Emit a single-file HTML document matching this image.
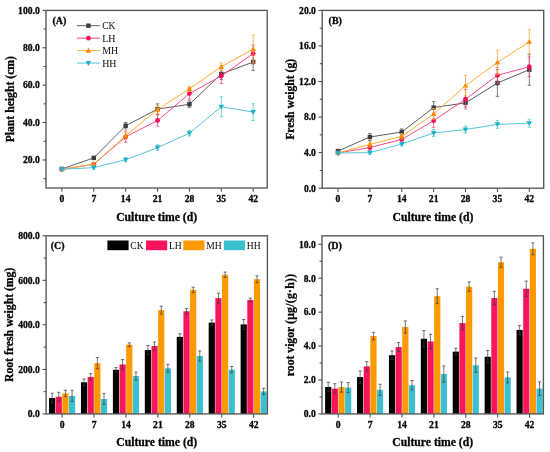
<!DOCTYPE html><html><head><meta charset="utf-8"><style>html,body{margin:0;padding:0;background:#fff;}svg{display:block;filter:blur(0.35px);}</style></head><body>
<svg width="550" height="452" viewBox="0 0 550 452" font-family='"Liberation Serif", serif' fill="#050505">
<rect width="550" height="452" fill="#fff"/>
<line x1="42.4" y1="159.96" x2="46" y2="159.96" stroke="#2a2a2a" stroke-width="0.9"/>
<text x="39.7" y="163.26" text-anchor="end" font-size="9.6" font-weight="bold" stroke="#050505" stroke-width="0.3">20.0</text>
<line x1="42.4" y1="122.57" x2="46" y2="122.57" stroke="#2a2a2a" stroke-width="0.9"/>
<text x="39.7" y="125.87" text-anchor="end" font-size="9.6" font-weight="bold" stroke="#050505" stroke-width="0.3">40.0</text>
<line x1="42.4" y1="85.18" x2="46" y2="85.18" stroke="#2a2a2a" stroke-width="0.9"/>
<text x="39.7" y="88.48" text-anchor="end" font-size="9.6" font-weight="bold" stroke="#050505" stroke-width="0.3">60.0</text>
<line x1="42.4" y1="47.79" x2="46" y2="47.79" stroke="#2a2a2a" stroke-width="0.9"/>
<text x="39.7" y="51.09" text-anchor="end" font-size="9.6" font-weight="bold" stroke="#050505" stroke-width="0.3">80.0</text>
<line x1="42.4" y1="10.4" x2="46" y2="10.4" stroke="#2a2a2a" stroke-width="0.9"/>
<text x="39.7" y="13.7" text-anchor="end" font-size="9.6" font-weight="bold" stroke="#050505" stroke-width="0.3">100.0</text>
<line x1="43.6" y1="178.65" x2="46" y2="178.65" stroke="#2a2a2a" stroke-width="0.9"/>
<line x1="43.6" y1="141.26" x2="46" y2="141.26" stroke="#2a2a2a" stroke-width="0.9"/>
<line x1="43.6" y1="103.87" x2="46" y2="103.87" stroke="#2a2a2a" stroke-width="0.9"/>
<line x1="43.6" y1="66.48" x2="46" y2="66.48" stroke="#2a2a2a" stroke-width="0.9"/>
<line x1="43.6" y1="29.09" x2="46" y2="29.09" stroke="#2a2a2a" stroke-width="0.9"/>
<line x1="61.9" y1="188" x2="61.9" y2="191.7" stroke="#2a2a2a" stroke-width="0.9"/>
<text x="61.9" y="202.1" text-anchor="middle" font-size="9.6" font-weight="bold" stroke="#050505" stroke-width="0.3">0</text>
<line x1="93.78" y1="188" x2="93.78" y2="191.7" stroke="#2a2a2a" stroke-width="0.9"/>
<text x="93.78" y="202.1" text-anchor="middle" font-size="9.6" font-weight="bold" stroke="#050505" stroke-width="0.3">7</text>
<line x1="125.67" y1="188" x2="125.67" y2="191.7" stroke="#2a2a2a" stroke-width="0.9"/>
<text x="125.67" y="202.1" text-anchor="middle" font-size="9.6" font-weight="bold" stroke="#050505" stroke-width="0.3">14</text>
<line x1="157.55" y1="188" x2="157.55" y2="191.7" stroke="#2a2a2a" stroke-width="0.9"/>
<text x="157.55" y="202.1" text-anchor="middle" font-size="9.6" font-weight="bold" stroke="#050505" stroke-width="0.3">21</text>
<line x1="189.43" y1="188" x2="189.43" y2="191.7" stroke="#2a2a2a" stroke-width="0.9"/>
<text x="189.43" y="202.1" text-anchor="middle" font-size="9.6" font-weight="bold" stroke="#050505" stroke-width="0.3">28</text>
<line x1="221.32" y1="188" x2="221.32" y2="191.7" stroke="#2a2a2a" stroke-width="0.9"/>
<text x="221.32" y="202.1" text-anchor="middle" font-size="9.6" font-weight="bold" stroke="#050505" stroke-width="0.3">35</text>
<line x1="253.2" y1="188" x2="253.2" y2="191.7" stroke="#2a2a2a" stroke-width="0.9"/>
<text x="253.2" y="202.1" text-anchor="middle" font-size="9.6" font-weight="bold" stroke="#050505" stroke-width="0.3">42</text>
<text x="156.6" y="221.2" text-anchor="middle" font-size="11.7" font-weight="bold" stroke="#050505" stroke-width="0.3">Culture time (d)</text>
<text transform="translate(13.6,99.2) rotate(-90)" text-anchor="middle" font-size="11.7" font-weight="bold" stroke="#050505" stroke-width="0.3">Plant height (cm)</text>
<text x="52.4" y="24.3" font-size="10.0" font-weight="bold" stroke="#050505" stroke-width="0.3">(A)</text>
<polyline points="61.9,168.93 93.78,157.9 125.67,125.75 157.55,109.11 189.43,104.25 221.32,73.96 253.2,62" fill="none" stroke="#5e5e5e" stroke-width="1.0"/>
<path d="M61.9,168 V169.87 M60.2,168 H63.6 M60.2,169.87 H63.6" stroke="#5e5e5e" stroke-width="0.8" fill="none"/>
<path d="M93.78,156.41 V159.4 M92.08,156.41 H95.48 M92.08,159.4 H95.48" stroke="#5e5e5e" stroke-width="0.8" fill="none"/>
<path d="M125.67,122.38 V129.11 M123.97,122.38 H127.37 M123.97,129.11 H127.37" stroke="#5e5e5e" stroke-width="0.8" fill="none"/>
<path d="M157.55,103.87 V114.34 M155.85,103.87 H159.25 M155.85,114.34 H159.25" stroke="#5e5e5e" stroke-width="0.8" fill="none"/>
<path d="M189.43,100.88 V107.61 M187.73,100.88 H191.13 M187.73,107.61 H191.13" stroke="#5e5e5e" stroke-width="0.8" fill="none"/>
<path d="M221.32,68.35 V79.57 M219.62,68.35 H223.02 M219.62,79.57 H223.02" stroke="#5e5e5e" stroke-width="0.8" fill="none"/>
<path d="M253.2,53.58 V70.41 M251.5,53.58 H254.9 M251.5,70.41 H254.9" stroke="#5e5e5e" stroke-width="0.8" fill="none"/>
<rect x="59.7" y="166.73" width="4.4" height="4.4" fill="#3c3c3c"/>
<rect x="91.58" y="155.7" width="4.4" height="4.4" fill="#3c3c3c"/>
<rect x="123.47" y="123.55" width="4.4" height="4.4" fill="#3c3c3c"/>
<rect x="155.35" y="106.91" width="4.4" height="4.4" fill="#3c3c3c"/>
<rect x="187.23" y="102.05" width="4.4" height="4.4" fill="#3c3c3c"/>
<rect x="219.12" y="71.76" width="4.4" height="4.4" fill="#3c3c3c"/>
<rect x="251" y="59.8" width="4.4" height="4.4" fill="#3c3c3c"/>
<polyline points="61.9,169.31 93.78,164.26 125.67,136.78 157.55,120.51 189.43,93.59 221.32,76.02 253.2,53.58" fill="none" stroke="#f64c82" stroke-width="1.0"/>
<path d="M61.9,168.37 V170.24 M60.2,168.37 H63.6 M60.2,170.24 H63.6" stroke="#f64c82" stroke-width="0.8" fill="none"/>
<path d="M93.78,162.76 V165.75 M92.08,162.76 H95.48 M92.08,165.75 H95.48" stroke="#f64c82" stroke-width="0.8" fill="none"/>
<path d="M125.67,131.17 V142.38 M123.97,131.17 H127.37 M123.97,142.38 H127.37" stroke="#f64c82" stroke-width="0.8" fill="none"/>
<path d="M157.55,114.9 V126.12 M155.85,114.9 H159.25 M155.85,126.12 H159.25" stroke="#f64c82" stroke-width="0.8" fill="none"/>
<path d="M189.43,87.98 V99.2 M187.73,87.98 H191.13 M187.73,99.2 H191.13" stroke="#f64c82" stroke-width="0.8" fill="none"/>
<path d="M221.32,68.54 V83.5 M219.62,68.54 H223.02 M219.62,83.5 H223.02" stroke="#f64c82" stroke-width="0.8" fill="none"/>
<path d="M253.2,45.17 V62 M251.5,45.17 H254.9 M251.5,62 H254.9" stroke="#f64c82" stroke-width="0.8" fill="none"/>
<circle cx="61.9" cy="169.31" r="2.4" fill="#f80c55"/>
<circle cx="93.78" cy="164.26" r="2.4" fill="#f80c55"/>
<circle cx="125.67" cy="136.78" r="2.4" fill="#f80c55"/>
<circle cx="157.55" cy="120.51" r="2.4" fill="#f80c55"/>
<circle cx="189.43" cy="93.59" r="2.4" fill="#f80c55"/>
<circle cx="221.32" cy="76.02" r="2.4" fill="#f80c55"/>
<circle cx="253.2" cy="53.58" r="2.4" fill="#f80c55"/>
<polyline points="61.9,169.31 93.78,164.26 125.67,135.65 157.55,109.48 189.43,88.92 221.32,66.67 253.2,49.1" fill="none" stroke="#ffab35" stroke-width="1.0"/>
<path d="M61.9,168.37 V170.24 M60.2,168.37 H63.6 M60.2,170.24 H63.6" stroke="#ffab35" stroke-width="0.8" fill="none"/>
<path d="M93.78,162.76 V165.75 M92.08,162.76 H95.48 M92.08,165.75 H95.48" stroke="#ffab35" stroke-width="0.8" fill="none"/>
<path d="M125.67,131.92 V139.39 M123.97,131.92 H127.37 M123.97,139.39 H127.37" stroke="#ffab35" stroke-width="0.8" fill="none"/>
<path d="M157.55,105.74 V113.22 M155.85,105.74 H159.25 M155.85,113.22 H159.25" stroke="#ffab35" stroke-width="0.8" fill="none"/>
<path d="M189.43,86.11 V91.72 M187.73,86.11 H191.13 M187.73,91.72 H191.13" stroke="#ffab35" stroke-width="0.8" fill="none"/>
<path d="M221.32,62.93 V70.41 M219.62,62.93 H223.02 M219.62,70.41 H223.02" stroke="#ffab35" stroke-width="0.8" fill="none"/>
<path d="M253.2,35.08 V63.12 M251.5,35.08 H254.9 M251.5,63.12 H254.9" stroke="#ffab35" stroke-width="0.8" fill="none"/>
<path d="M61.9,166.41 L64.7,171.31 L59.1,171.31Z" fill="#ff8a00"/>
<path d="M93.78,161.36 L96.58,166.26 L90.98,166.26Z" fill="#ff8a00"/>
<path d="M125.67,132.75 L128.47,137.65 L122.87,137.65Z" fill="#ff8a00"/>
<path d="M157.55,106.58 L160.35,111.48 L154.75,111.48Z" fill="#ff8a00"/>
<path d="M189.43,86.02 L192.23,90.92 L186.63,90.92Z" fill="#ff8a00"/>
<path d="M221.32,63.77 L224.12,68.67 L218.52,68.67Z" fill="#ff8a00"/>
<path d="M253.2,46.2 L256,51.1 L250.4,51.1Z" fill="#ff8a00"/>
<polyline points="61.9,169.31 93.78,167.62 125.67,159.77 157.55,147.62 189.43,133.22 221.32,106.68 253.2,112.1" fill="none" stroke="#55c6d8" stroke-width="1.0"/>
<path d="M61.9,168.37 V170.24 M60.2,168.37 H63.6 M60.2,170.24 H63.6" stroke="#55c6d8" stroke-width="0.8" fill="none"/>
<path d="M93.78,166.13 V169.12 M92.08,166.13 H95.48 M92.08,169.12 H95.48" stroke="#55c6d8" stroke-width="0.8" fill="none"/>
<path d="M125.67,157.9 V161.64 M123.97,157.9 H127.37 M123.97,161.64 H127.37" stroke="#55c6d8" stroke-width="0.8" fill="none"/>
<path d="M157.55,144.82 V150.42 M155.85,144.82 H159.25 M155.85,150.42 H159.25" stroke="#55c6d8" stroke-width="0.8" fill="none"/>
<path d="M189.43,130.42 V136.03 M187.73,130.42 H191.13 M187.73,136.03 H191.13" stroke="#55c6d8" stroke-width="0.8" fill="none"/>
<path d="M221.32,96.77 V116.59 M219.62,96.77 H223.02 M219.62,116.59 H223.02" stroke="#55c6d8" stroke-width="0.8" fill="none"/>
<path d="M253.2,103.69 V120.51 M251.5,103.69 H254.9 M251.5,120.51 H254.9" stroke="#55c6d8" stroke-width="0.8" fill="none"/>
<path d="M61.9,172.21 L64.7,167.31 L59.1,167.31Z" fill="#1fb2ca"/>
<path d="M93.78,170.52 L96.58,165.62 L90.98,165.62Z" fill="#1fb2ca"/>
<path d="M125.67,162.67 L128.47,157.77 L122.87,157.77Z" fill="#1fb2ca"/>
<path d="M157.55,150.52 L160.35,145.62 L154.75,145.62Z" fill="#1fb2ca"/>
<path d="M189.43,136.12 L192.23,131.22 L186.63,131.22Z" fill="#1fb2ca"/>
<path d="M221.32,109.58 L224.12,104.68 L218.52,104.68Z" fill="#1fb2ca"/>
<path d="M253.2,115 L256,110.1 L250.4,110.1Z" fill="#1fb2ca"/>
<rect x="46" y="10.4" width="221.2" height="177.6" fill="none" stroke="#555555" stroke-width="1.35"/>
<line x1="76.9" y1="25.7" x2="99.9" y2="25.7" stroke="#5e5e5e" stroke-width="1.0"/>
<rect x="86.2" y="23.5" width="4.4" height="4.4" fill="#3c3c3c"/>
<text x="102.2" y="28.7" font-size="9.5" fill="#0a0a0a">CK</text>
<line x1="76.9" y1="38.17" x2="99.9" y2="38.17" stroke="#f64c82" stroke-width="1.0"/>
<circle cx="88.4" cy="38.17" r="2.4" fill="#f80c55"/>
<text x="102.2" y="41.77" font-size="9.9" fill="#0a0a0a">LH</text>
<line x1="76.9" y1="50.64" x2="99.9" y2="50.64" stroke="#ffab35" stroke-width="1.0"/>
<path d="M88.4,47.74 L91.2,52.64 L85.6,52.64Z" fill="#ff8a00"/>
<text x="102.2" y="54.24" font-size="9.9" fill="#0a0a0a">MH</text>
<line x1="76.9" y1="63.11" x2="99.9" y2="63.11" stroke="#55c6d8" stroke-width="1.0"/>
<path d="M88.4,66.01 L91.2,61.11 L85.6,61.11Z" fill="#1fb2ca"/>
<text x="102.2" y="66.71" font-size="9.9" fill="#0a0a0a">HH</text>
<line x1="318.6" y1="188.2" x2="322.2" y2="188.2" stroke="#2a2a2a" stroke-width="0.9"/>
<text x="315.9" y="191.5" text-anchor="end" font-size="9.6" font-weight="bold" stroke="#050505" stroke-width="0.3">0.0</text>
<line x1="318.6" y1="152.64" x2="322.2" y2="152.64" stroke="#2a2a2a" stroke-width="0.9"/>
<text x="315.9" y="155.94" text-anchor="end" font-size="9.6" font-weight="bold" stroke="#050505" stroke-width="0.3">4.0</text>
<line x1="318.6" y1="117.08" x2="322.2" y2="117.08" stroke="#2a2a2a" stroke-width="0.9"/>
<text x="315.9" y="120.38" text-anchor="end" font-size="9.6" font-weight="bold" stroke="#050505" stroke-width="0.3">8.0</text>
<line x1="318.6" y1="81.52" x2="322.2" y2="81.52" stroke="#2a2a2a" stroke-width="0.9"/>
<text x="315.9" y="84.82" text-anchor="end" font-size="9.6" font-weight="bold" stroke="#050505" stroke-width="0.3">12.0</text>
<line x1="318.6" y1="45.96" x2="322.2" y2="45.96" stroke="#2a2a2a" stroke-width="0.9"/>
<text x="315.9" y="49.26" text-anchor="end" font-size="9.6" font-weight="bold" stroke="#050505" stroke-width="0.3">16.0</text>
<line x1="318.6" y1="10.4" x2="322.2" y2="10.4" stroke="#2a2a2a" stroke-width="0.9"/>
<text x="315.9" y="13.7" text-anchor="end" font-size="9.6" font-weight="bold" stroke="#050505" stroke-width="0.3">20.0</text>
<line x1="319.8" y1="170.42" x2="322.2" y2="170.42" stroke="#2a2a2a" stroke-width="0.9"/>
<line x1="319.8" y1="134.86" x2="322.2" y2="134.86" stroke="#2a2a2a" stroke-width="0.9"/>
<line x1="319.8" y1="99.3" x2="322.2" y2="99.3" stroke="#2a2a2a" stroke-width="0.9"/>
<line x1="319.8" y1="63.74" x2="322.2" y2="63.74" stroke="#2a2a2a" stroke-width="0.9"/>
<line x1="319.8" y1="28.18" x2="322.2" y2="28.18" stroke="#2a2a2a" stroke-width="0.9"/>
<line x1="338" y1="188.2" x2="338" y2="191.9" stroke="#2a2a2a" stroke-width="0.9"/>
<text x="338" y="202.3" text-anchor="middle" font-size="9.6" font-weight="bold" stroke="#050505" stroke-width="0.3">0</text>
<line x1="369.88" y1="188.2" x2="369.88" y2="191.9" stroke="#2a2a2a" stroke-width="0.9"/>
<text x="369.88" y="202.3" text-anchor="middle" font-size="9.6" font-weight="bold" stroke="#050505" stroke-width="0.3">7</text>
<line x1="401.77" y1="188.2" x2="401.77" y2="191.9" stroke="#2a2a2a" stroke-width="0.9"/>
<text x="401.77" y="202.3" text-anchor="middle" font-size="9.6" font-weight="bold" stroke="#050505" stroke-width="0.3">14</text>
<line x1="433.65" y1="188.2" x2="433.65" y2="191.9" stroke="#2a2a2a" stroke-width="0.9"/>
<text x="433.65" y="202.3" text-anchor="middle" font-size="9.6" font-weight="bold" stroke="#050505" stroke-width="0.3">21</text>
<line x1="465.53" y1="188.2" x2="465.53" y2="191.9" stroke="#2a2a2a" stroke-width="0.9"/>
<text x="465.53" y="202.3" text-anchor="middle" font-size="9.6" font-weight="bold" stroke="#050505" stroke-width="0.3">28</text>
<line x1="497.42" y1="188.2" x2="497.42" y2="191.9" stroke="#2a2a2a" stroke-width="0.9"/>
<text x="497.42" y="202.3" text-anchor="middle" font-size="9.6" font-weight="bold" stroke="#050505" stroke-width="0.3">35</text>
<line x1="529.3" y1="188.2" x2="529.3" y2="191.9" stroke="#2a2a2a" stroke-width="0.9"/>
<text x="529.3" y="202.3" text-anchor="middle" font-size="9.6" font-weight="bold" stroke="#050505" stroke-width="0.3">42</text>
<text x="432.95" y="221.2" text-anchor="middle" font-size="11.7" font-weight="bold" stroke="#050505" stroke-width="0.3">Culture time (d)</text>
<text transform="translate(294,99.3) rotate(-90)" text-anchor="middle" font-size="11.7" font-weight="bold" stroke="#050505" stroke-width="0.3">Fresh weight (g)</text>
<text x="328.6" y="24" font-size="10.0" font-weight="bold" stroke="#050505" stroke-width="0.3">(B)</text>
<polyline points="338,151.04 369.88,136.99 401.77,132.02 433.65,107.57 465.53,102.86 497.42,83.03 529.3,69.7" fill="none" stroke="#5e5e5e" stroke-width="1.0"/>
<path d="M338,149.71 V152.37 M336.3,149.71 H339.7 M336.3,152.37 H339.7" stroke="#5e5e5e" stroke-width="0.8" fill="none"/>
<path d="M369.88,133.44 V140.55 M368.18,133.44 H371.58 M368.18,140.55 H371.58" stroke="#5e5e5e" stroke-width="0.8" fill="none"/>
<path d="M401.77,128.9 V135.13 M400.07,128.9 H403.47 M400.07,135.13 H403.47" stroke="#5e5e5e" stroke-width="0.8" fill="none"/>
<path d="M433.65,101.7 V113.44 M431.95,101.7 H435.35 M431.95,113.44 H435.35" stroke="#5e5e5e" stroke-width="0.8" fill="none"/>
<path d="M465.53,98.86 V106.86 M463.83,98.86 H467.23 M463.83,106.86 H467.23" stroke="#5e5e5e" stroke-width="0.8" fill="none"/>
<path d="M497.42,69.7 V96.37 M495.72,69.7 H499.12 M495.72,96.37 H499.12" stroke="#5e5e5e" stroke-width="0.8" fill="none"/>
<path d="M529.3,54.14 V85.25 M527.6,54.14 H531 M527.6,85.25 H531" stroke="#5e5e5e" stroke-width="0.8" fill="none"/>
<rect x="335.8" y="148.84" width="4.4" height="4.4" fill="#3c3c3c"/>
<rect x="367.68" y="134.79" width="4.4" height="4.4" fill="#3c3c3c"/>
<rect x="399.57" y="129.82" width="4.4" height="4.4" fill="#3c3c3c"/>
<rect x="431.45" y="105.37" width="4.4" height="4.4" fill="#3c3c3c"/>
<rect x="463.33" y="100.66" width="4.4" height="4.4" fill="#3c3c3c"/>
<rect x="495.22" y="80.83" width="4.4" height="4.4" fill="#3c3c3c"/>
<rect x="527.1" y="67.5" width="4.4" height="4.4" fill="#3c3c3c"/>
<polyline points="338,153 369.88,147.57 401.77,139.39 433.65,120.64 465.53,99.21 497.42,75.3 529.3,66.76" fill="none" stroke="#f64c82" stroke-width="1.0"/>
<path d="M338,151.66 V154.33 M336.3,151.66 H339.7 M336.3,154.33 H339.7" stroke="#f64c82" stroke-width="0.8" fill="none"/>
<path d="M369.88,144.91 V150.24 M368.18,144.91 H371.58 M368.18,150.24 H371.58" stroke="#f64c82" stroke-width="0.8" fill="none"/>
<path d="M401.77,136.73 V142.06 M400.07,136.73 H403.47 M400.07,142.06 H403.47" stroke="#f64c82" stroke-width="0.8" fill="none"/>
<path d="M433.65,113.97 V127.3 M431.95,113.97 H435.35 M431.95,127.3 H435.35" stroke="#f64c82" stroke-width="0.8" fill="none"/>
<path d="M465.53,89.43 V108.99 M463.83,89.43 H467.23 M463.83,108.99 H467.23" stroke="#f64c82" stroke-width="0.8" fill="none"/>
<path d="M497.42,67.3 V83.3 M495.72,67.3 H499.12 M495.72,83.3 H499.12" stroke="#f64c82" stroke-width="0.8" fill="none"/>
<path d="M529.3,56.98 V76.54 M527.6,56.98 H531 M527.6,76.54 H531" stroke="#f64c82" stroke-width="0.8" fill="none"/>
<circle cx="338" cy="153" r="2.4" fill="#f80c55"/>
<circle cx="369.88" cy="147.57" r="2.4" fill="#f80c55"/>
<circle cx="401.77" cy="139.39" r="2.4" fill="#f80c55"/>
<circle cx="433.65" cy="120.64" r="2.4" fill="#f80c55"/>
<circle cx="465.53" cy="99.21" r="2.4" fill="#f80c55"/>
<circle cx="497.42" cy="75.3" r="2.4" fill="#f80c55"/>
<circle cx="529.3" cy="66.76" r="2.4" fill="#f80c55"/>
<polyline points="338,153 369.88,144.37 401.77,136.37 433.65,113.97 465.53,85.61 497.42,62.5 529.3,41.78" fill="none" stroke="#ffab35" stroke-width="1.0"/>
<path d="M338,151.66 V154.33 M336.3,151.66 H339.7 M336.3,154.33 H339.7" stroke="#ffab35" stroke-width="0.8" fill="none"/>
<path d="M369.88,141.71 V147.04 M368.18,141.71 H371.58 M368.18,147.04 H371.58" stroke="#ffab35" stroke-width="0.8" fill="none"/>
<path d="M401.77,133.7 V139.04 M400.07,133.7 H403.47 M400.07,139.04 H403.47" stroke="#ffab35" stroke-width="0.8" fill="none"/>
<path d="M433.65,108.63 V119.3 M431.95,108.63 H435.35 M431.95,119.3 H435.35" stroke="#ffab35" stroke-width="0.8" fill="none"/>
<path d="M465.53,75.3 V95.92 M463.83,75.3 H467.23 M463.83,95.92 H467.23" stroke="#ffab35" stroke-width="0.8" fill="none"/>
<path d="M497.42,50.32 V74.67 M495.72,50.32 H499.12 M495.72,74.67 H499.12" stroke="#ffab35" stroke-width="0.8" fill="none"/>
<path d="M529.3,29.34 V54.23 M527.6,29.34 H531 M527.6,54.23 H531" stroke="#ffab35" stroke-width="0.8" fill="none"/>
<path d="M338,150.1 L340.8,155 L335.2,155Z" fill="#ff8a00"/>
<path d="M369.88,141.47 L372.68,146.37 L367.08,146.37Z" fill="#ff8a00"/>
<path d="M401.77,133.47 L404.57,138.37 L398.97,138.37Z" fill="#ff8a00"/>
<path d="M433.65,111.07 L436.45,115.97 L430.85,115.97Z" fill="#ff8a00"/>
<path d="M465.53,82.71 L468.33,87.61 L462.73,87.61Z" fill="#ff8a00"/>
<path d="M497.42,59.6 L500.22,64.5 L494.62,64.5Z" fill="#ff8a00"/>
<path d="M529.3,38.88 L532.1,43.78 L526.5,43.78Z" fill="#ff8a00"/>
<polyline points="338,153 369.88,152.64 401.77,144.02 433.65,132.99 465.53,129.53 497.42,124.37 529.3,123.13" fill="none" stroke="#55c6d8" stroke-width="1.0"/>
<path d="M338,151.66 V154.33 M336.3,151.66 H339.7 M336.3,154.33 H339.7" stroke="#55c6d8" stroke-width="0.8" fill="none"/>
<path d="M369.88,150.86 V154.42 M368.18,150.86 H371.58 M368.18,154.42 H371.58" stroke="#55c6d8" stroke-width="0.8" fill="none"/>
<path d="M401.77,142.24 V145.79 M400.07,142.24 H403.47 M400.07,145.79 H403.47" stroke="#55c6d8" stroke-width="0.8" fill="none"/>
<path d="M433.65,129.44 V136.55 M431.95,129.44 H435.35 M431.95,136.55 H435.35" stroke="#55c6d8" stroke-width="0.8" fill="none"/>
<path d="M465.53,125.97 V133.08 M463.83,125.97 H467.23 M463.83,133.08 H467.23" stroke="#55c6d8" stroke-width="0.8" fill="none"/>
<path d="M497.42,120.37 V128.37 M495.72,120.37 H499.12 M495.72,128.37 H499.12" stroke="#55c6d8" stroke-width="0.8" fill="none"/>
<path d="M529.3,119.12 V127.13 M527.6,119.12 H531 M527.6,127.13 H531" stroke="#55c6d8" stroke-width="0.8" fill="none"/>
<path d="M338,155.9 L340.8,151 L335.2,151Z" fill="#1fb2ca"/>
<path d="M369.88,155.54 L372.68,150.64 L367.08,150.64Z" fill="#1fb2ca"/>
<path d="M401.77,146.92 L404.57,142.02 L398.97,142.02Z" fill="#1fb2ca"/>
<path d="M433.65,135.89 L436.45,130.99 L430.85,130.99Z" fill="#1fb2ca"/>
<path d="M465.53,132.43 L468.33,127.53 L462.73,127.53Z" fill="#1fb2ca"/>
<path d="M497.42,127.27 L500.22,122.37 L494.62,122.37Z" fill="#1fb2ca"/>
<path d="M529.3,126.03 L532.1,121.13 L526.5,121.13Z" fill="#1fb2ca"/>
<rect x="322.2" y="10.4" width="221.5" height="177.8" fill="none" stroke="#555555" stroke-width="1.35"/>
<line x1="42.5" y1="413.9" x2="46.1" y2="413.9" stroke="#2a2a2a" stroke-width="0.9"/>
<text x="39.8" y="417.2" text-anchor="end" font-size="9.6" font-weight="bold" stroke="#050505" stroke-width="0.3">0.0</text>
<line x1="42.5" y1="369.38" x2="46.1" y2="369.38" stroke="#2a2a2a" stroke-width="0.9"/>
<text x="39.8" y="372.68" text-anchor="end" font-size="9.6" font-weight="bold" stroke="#050505" stroke-width="0.3">200.0</text>
<line x1="42.5" y1="324.85" x2="46.1" y2="324.85" stroke="#2a2a2a" stroke-width="0.9"/>
<text x="39.8" y="328.15" text-anchor="end" font-size="9.6" font-weight="bold" stroke="#050505" stroke-width="0.3">400.0</text>
<line x1="42.5" y1="280.32" x2="46.1" y2="280.32" stroke="#2a2a2a" stroke-width="0.9"/>
<text x="39.8" y="283.62" text-anchor="end" font-size="9.6" font-weight="bold" stroke="#050505" stroke-width="0.3">600.0</text>
<line x1="42.5" y1="235.8" x2="46.1" y2="235.8" stroke="#2a2a2a" stroke-width="0.9"/>
<text x="39.8" y="239.1" text-anchor="end" font-size="9.6" font-weight="bold" stroke="#050505" stroke-width="0.3">800.0</text>
<line x1="43.7" y1="391.64" x2="46.1" y2="391.64" stroke="#2a2a2a" stroke-width="0.9"/>
<line x1="43.7" y1="347.11" x2="46.1" y2="347.11" stroke="#2a2a2a" stroke-width="0.9"/>
<line x1="43.7" y1="302.59" x2="46.1" y2="302.59" stroke="#2a2a2a" stroke-width="0.9"/>
<line x1="43.7" y1="258.06" x2="46.1" y2="258.06" stroke="#2a2a2a" stroke-width="0.9"/>
<line x1="62.1" y1="413.9" x2="62.1" y2="417.6" stroke="#2a2a2a" stroke-width="0.9"/>
<text x="62.1" y="428.2" text-anchor="middle" font-size="9.6" font-weight="bold" stroke="#050505" stroke-width="0.3">0</text>
<line x1="94.03" y1="413.9" x2="94.03" y2="417.6" stroke="#2a2a2a" stroke-width="0.9"/>
<text x="94.03" y="428.2" text-anchor="middle" font-size="9.6" font-weight="bold" stroke="#050505" stroke-width="0.3">7</text>
<line x1="125.97" y1="413.9" x2="125.97" y2="417.6" stroke="#2a2a2a" stroke-width="0.9"/>
<text x="125.97" y="428.2" text-anchor="middle" font-size="9.6" font-weight="bold" stroke="#050505" stroke-width="0.3">14</text>
<line x1="157.9" y1="413.9" x2="157.9" y2="417.6" stroke="#2a2a2a" stroke-width="0.9"/>
<text x="157.9" y="428.2" text-anchor="middle" font-size="9.6" font-weight="bold" stroke="#050505" stroke-width="0.3">21</text>
<line x1="189.83" y1="413.9" x2="189.83" y2="417.6" stroke="#2a2a2a" stroke-width="0.9"/>
<text x="189.83" y="428.2" text-anchor="middle" font-size="9.6" font-weight="bold" stroke="#050505" stroke-width="0.3">28</text>
<line x1="221.77" y1="413.9" x2="221.77" y2="417.6" stroke="#2a2a2a" stroke-width="0.9"/>
<text x="221.77" y="428.2" text-anchor="middle" font-size="9.6" font-weight="bold" stroke="#050505" stroke-width="0.3">35</text>
<line x1="253.7" y1="413.9" x2="253.7" y2="417.6" stroke="#2a2a2a" stroke-width="0.9"/>
<text x="253.7" y="428.2" text-anchor="middle" font-size="9.6" font-weight="bold" stroke="#050505" stroke-width="0.3">42</text>
<text x="156.75" y="446.3" text-anchor="middle" font-size="11.7" font-weight="bold" stroke="#050505" stroke-width="0.3">Culture time (d)</text>
<text transform="translate(13.4,324.85) rotate(-90)" text-anchor="middle" font-size="11.7" font-weight="bold" stroke="#050505" stroke-width="0.3">Root fresh weight (mg)</text>
<text x="50.7" y="248.8" font-size="10.0" font-weight="bold" stroke="#050505" stroke-width="0.3">(C)</text>
<rect x="49.02" y="398.09" width="6.2" height="15.81" fill="#000000"/>
<rect x="55.67" y="396.76" width="6.2" height="17.14" fill="#f8155c"/>
<rect x="62.32" y="393.42" width="6.2" height="20.48" fill="#ff9900"/>
<rect x="68.97" y="395.87" width="6.2" height="18.03" fill="#3cc0d0"/>
<rect x="80.96" y="382.29" width="6.2" height="31.61" fill="#000000"/>
<rect x="87.61" y="376.94" width="6.2" height="36.96" fill="#f8155c"/>
<rect x="94.26" y="363.14" width="6.2" height="50.76" fill="#ff9900"/>
<rect x="100.91" y="398.98" width="6.2" height="14.92" fill="#3cc0d0"/>
<rect x="112.89" y="369.82" width="6.2" height="44.08" fill="#000000"/>
<rect x="119.54" y="364.48" width="6.2" height="49.42" fill="#f8155c"/>
<rect x="126.19" y="344.66" width="6.2" height="69.24" fill="#ff9900"/>
<rect x="132.84" y="376.05" width="6.2" height="37.85" fill="#3cc0d0"/>
<rect x="144.82" y="350.01" width="6.2" height="63.89" fill="#000000"/>
<rect x="151.47" y="346" width="6.2" height="67.9" fill="#f8155c"/>
<rect x="158.12" y="310.16" width="6.2" height="103.74" fill="#ff9900"/>
<rect x="164.78" y="368.26" width="6.2" height="45.64" fill="#3cc0d0"/>
<rect x="176.76" y="336.87" width="6.2" height="77.03" fill="#000000"/>
<rect x="183.41" y="311.27" width="6.2" height="102.63" fill="#f8155c"/>
<rect x="190.06" y="289.9" width="6.2" height="124" fill="#ff9900"/>
<rect x="196.71" y="356.02" width="6.2" height="57.88" fill="#3cc0d0"/>
<rect x="208.69" y="322.62" width="6.2" height="91.28" fill="#000000"/>
<rect x="215.34" y="298.13" width="6.2" height="115.76" fill="#f8155c"/>
<rect x="221.99" y="274.76" width="6.2" height="139.14" fill="#ff9900"/>
<rect x="228.64" y="369.6" width="6.2" height="44.3" fill="#3cc0d0"/>
<rect x="240.62" y="324.4" width="6.2" height="89.5" fill="#000000"/>
<rect x="247.27" y="299.92" width="6.2" height="113.98" fill="#f8155c"/>
<rect x="253.92" y="279.21" width="6.2" height="134.69" fill="#ff9900"/>
<rect x="260.57" y="391.41" width="6.2" height="22.49" fill="#3cc0d0"/>
<path d="M52.12,393.2 V402.99 M50.52,393.2 H53.73 M50.52,402.99 H53.73" stroke="#3a3a3a" stroke-width="0.7" fill="none"/>
<path d="M58.77,392.31 V401.21 M57.17,392.31 H60.38 M57.17,401.21 H60.38" stroke="#3a3a3a" stroke-width="0.7" fill="none"/>
<path d="M65.42,390.3 V396.54 M63.82,390.3 H67.02 M63.82,396.54 H67.02" stroke="#3a3a3a" stroke-width="0.7" fill="none"/>
<path d="M72.08,390.3 V401.43 M70.48,390.3 H73.67 M70.48,401.43 H73.67" stroke="#3a3a3a" stroke-width="0.7" fill="none"/>
<path d="M84.06,378.95 V385.63 M82.46,378.95 H85.66 M82.46,385.63 H85.66" stroke="#3a3a3a" stroke-width="0.7" fill="none"/>
<path d="M90.71,373.6 V380.28 M89.11,373.6 H92.31 M89.11,380.28 H92.31" stroke="#3a3a3a" stroke-width="0.7" fill="none"/>
<path d="M97.36,357.58 V368.71 M95.76,357.58 H98.96 M95.76,368.71 H98.96" stroke="#3a3a3a" stroke-width="0.7" fill="none"/>
<path d="M104.01,393.42 V404.55 M102.41,393.42 H105.61 M102.41,404.55 H105.61" stroke="#3a3a3a" stroke-width="0.7" fill="none"/>
<path d="M115.99,367.59 V372.05 M114.39,367.59 H117.59 M114.39,372.05 H117.59" stroke="#3a3a3a" stroke-width="0.7" fill="none"/>
<path d="M122.64,359.58 V369.38 M121.04,359.58 H124.24 M121.04,369.38 H124.24" stroke="#3a3a3a" stroke-width="0.7" fill="none"/>
<path d="M129.29,342.88 V346.44 M127.69,342.88 H130.89 M127.69,346.44 H130.89" stroke="#3a3a3a" stroke-width="0.7" fill="none"/>
<path d="M135.94,372.05 V380.06 M134.34,372.05 H137.54 M134.34,380.06 H137.54" stroke="#3a3a3a" stroke-width="0.7" fill="none"/>
<path d="M147.92,345.55 V354.46 M146.32,345.55 H149.52 M146.32,354.46 H149.52" stroke="#3a3a3a" stroke-width="0.7" fill="none"/>
<path d="M154.57,341.99 V350.01 M152.97,341.99 H156.17 M152.97,350.01 H156.17" stroke="#3a3a3a" stroke-width="0.7" fill="none"/>
<path d="M161.22,306.15 V314.16 M159.62,306.15 H162.82 M159.62,314.16 H162.82" stroke="#3a3a3a" stroke-width="0.7" fill="none"/>
<path d="M167.88,364.25 V372.27 M166.28,364.25 H169.47 M166.28,372.27 H169.47" stroke="#3a3a3a" stroke-width="0.7" fill="none"/>
<path d="M179.86,333.75 V339.99 M178.26,333.75 H181.46 M178.26,339.99 H181.46" stroke="#3a3a3a" stroke-width="0.7" fill="none"/>
<path d="M186.51,308.6 V313.94 M184.91,308.6 H188.11 M184.91,313.94 H188.11" stroke="#3a3a3a" stroke-width="0.7" fill="none"/>
<path d="M193.16,287.23 V292.57 M191.56,287.23 H194.76 M191.56,292.57 H194.76" stroke="#3a3a3a" stroke-width="0.7" fill="none"/>
<path d="M199.81,350.9 V361.14 M198.21,350.9 H201.41 M198.21,361.14 H201.41" stroke="#3a3a3a" stroke-width="0.7" fill="none"/>
<path d="M211.79,319.95 V325.3 M210.19,319.95 H213.39 M210.19,325.3 H213.39" stroke="#3a3a3a" stroke-width="0.7" fill="none"/>
<path d="M218.44,293.24 V303.03 M216.84,293.24 H220.04 M216.84,303.03 H220.04" stroke="#3a3a3a" stroke-width="0.7" fill="none"/>
<path d="M225.09,272.09 V277.43 M223.49,272.09 H226.69 M223.49,277.43 H226.69" stroke="#3a3a3a" stroke-width="0.7" fill="none"/>
<path d="M231.74,366.48 V372.71 M230.14,366.48 H233.34 M230.14,372.71 H233.34" stroke="#3a3a3a" stroke-width="0.7" fill="none"/>
<path d="M243.72,319.51 V329.3 M242.12,319.51 H245.32 M242.12,329.3 H245.32" stroke="#3a3a3a" stroke-width="0.7" fill="none"/>
<path d="M250.37,298.13 V301.7 M248.77,298.13 H251.97 M248.77,301.7 H251.97" stroke="#3a3a3a" stroke-width="0.7" fill="none"/>
<path d="M257.02,275.87 V282.55 M255.42,275.87 H258.62 M255.42,282.55 H258.62" stroke="#3a3a3a" stroke-width="0.7" fill="none"/>
<path d="M263.67,388.3 V394.53 M262.07,388.3 H265.27 M262.07,394.53 H265.27" stroke="#3a3a3a" stroke-width="0.7" fill="none"/>
<rect x="46.1" y="235.8" width="221.3" height="178.1" fill="none" stroke="#555555" stroke-width="1.35"/>
<rect x="107.4" y="240.5" width="21.2" height="9.7" fill="#000000"/>
<text x="130.3" y="248.9" font-size="9.6" fill="#0a0a0a">CK</text>
<rect x="146.0" y="240.5" width="21.2" height="9.7" fill="#f8155c"/>
<text x="168.9" y="248.9" font-size="9.6" fill="#0a0a0a">LH</text>
<rect x="183.3" y="240.5" width="21.2" height="9.7" fill="#ff9900"/>
<text x="206.2" y="248.9" font-size="9.6" fill="#0a0a0a">MH</text>
<rect x="223.9" y="240.5" width="21.2" height="9.7" fill="#3cc0d0"/>
<text x="246.8" y="248.9" font-size="9.6" fill="#0a0a0a">HH</text>
<line x1="318.4" y1="413.9" x2="322" y2="413.9" stroke="#2a2a2a" stroke-width="0.9"/>
<text x="315.7" y="417.2" text-anchor="end" font-size="9.6" font-weight="bold" stroke="#050505" stroke-width="0.3">0.0</text>
<line x1="318.4" y1="379.98" x2="322" y2="379.98" stroke="#2a2a2a" stroke-width="0.9"/>
<text x="315.7" y="383.28" text-anchor="end" font-size="9.6" font-weight="bold" stroke="#050505" stroke-width="0.3">2.0</text>
<line x1="318.4" y1="346.05" x2="322" y2="346.05" stroke="#2a2a2a" stroke-width="0.9"/>
<text x="315.7" y="349.35" text-anchor="end" font-size="9.6" font-weight="bold" stroke="#050505" stroke-width="0.3">4.0</text>
<line x1="318.4" y1="312.13" x2="322" y2="312.13" stroke="#2a2a2a" stroke-width="0.9"/>
<text x="315.7" y="315.43" text-anchor="end" font-size="9.6" font-weight="bold" stroke="#050505" stroke-width="0.3">6.0</text>
<line x1="318.4" y1="278.2" x2="322" y2="278.2" stroke="#2a2a2a" stroke-width="0.9"/>
<text x="315.7" y="281.5" text-anchor="end" font-size="9.6" font-weight="bold" stroke="#050505" stroke-width="0.3">8.0</text>
<line x1="318.4" y1="244.28" x2="322" y2="244.28" stroke="#2a2a2a" stroke-width="0.9"/>
<text x="315.7" y="247.58" text-anchor="end" font-size="9.6" font-weight="bold" stroke="#050505" stroke-width="0.3">10.0</text>
<line x1="319.6" y1="396.94" x2="322" y2="396.94" stroke="#2a2a2a" stroke-width="0.9"/>
<line x1="319.6" y1="363.01" x2="322" y2="363.01" stroke="#2a2a2a" stroke-width="0.9"/>
<line x1="319.6" y1="329.09" x2="322" y2="329.09" stroke="#2a2a2a" stroke-width="0.9"/>
<line x1="319.6" y1="295.17" x2="322" y2="295.17" stroke="#2a2a2a" stroke-width="0.9"/>
<line x1="319.6" y1="261.24" x2="322" y2="261.24" stroke="#2a2a2a" stroke-width="0.9"/>
<line x1="338.2" y1="413.9" x2="338.2" y2="417.6" stroke="#2a2a2a" stroke-width="0.9"/>
<text x="338.2" y="428.2" text-anchor="middle" font-size="9.6" font-weight="bold" stroke="#050505" stroke-width="0.3">0</text>
<line x1="370.1" y1="413.9" x2="370.1" y2="417.6" stroke="#2a2a2a" stroke-width="0.9"/>
<text x="370.1" y="428.2" text-anchor="middle" font-size="9.6" font-weight="bold" stroke="#050505" stroke-width="0.3">7</text>
<line x1="402" y1="413.9" x2="402" y2="417.6" stroke="#2a2a2a" stroke-width="0.9"/>
<text x="402" y="428.2" text-anchor="middle" font-size="9.6" font-weight="bold" stroke="#050505" stroke-width="0.3">14</text>
<line x1="433.9" y1="413.9" x2="433.9" y2="417.6" stroke="#2a2a2a" stroke-width="0.9"/>
<text x="433.9" y="428.2" text-anchor="middle" font-size="9.6" font-weight="bold" stroke="#050505" stroke-width="0.3">21</text>
<line x1="465.8" y1="413.9" x2="465.8" y2="417.6" stroke="#2a2a2a" stroke-width="0.9"/>
<text x="465.8" y="428.2" text-anchor="middle" font-size="9.6" font-weight="bold" stroke="#050505" stroke-width="0.3">28</text>
<line x1="497.7" y1="413.9" x2="497.7" y2="417.6" stroke="#2a2a2a" stroke-width="0.9"/>
<text x="497.7" y="428.2" text-anchor="middle" font-size="9.6" font-weight="bold" stroke="#050505" stroke-width="0.3">35</text>
<line x1="529.6" y1="413.9" x2="529.6" y2="417.6" stroke="#2a2a2a" stroke-width="0.9"/>
<text x="529.6" y="428.2" text-anchor="middle" font-size="9.6" font-weight="bold" stroke="#050505" stroke-width="0.3">42</text>
<text x="432.7" y="446.3" text-anchor="middle" font-size="11.7" font-weight="bold" stroke="#050505" stroke-width="0.3">Culture time (d)</text>
<text transform="translate(294,324.85) rotate(-90)" text-anchor="middle" font-size="11.7" font-weight="bold" stroke="#050505" stroke-width="0.3">root vigor <tspan letter-spacing="0.3">(μg/(g·h))</tspan></text>
<text x="328" y="248.8" font-size="10.0" font-weight="bold" stroke="#050505" stroke-width="0.3">(D)</text>
<rect x="325.12" y="386.93" width="6.2" height="26.97" fill="#000000"/>
<rect x="331.77" y="388.63" width="6.2" height="25.27" fill="#f8155c"/>
<rect x="338.43" y="387.1" width="6.2" height="26.8" fill="#ff9900"/>
<rect x="345.07" y="387.61" width="6.2" height="26.29" fill="#3cc0d0"/>
<rect x="357.03" y="377.09" width="6.2" height="36.81" fill="#000000"/>
<rect x="363.68" y="366.41" width="6.2" height="47.49" fill="#f8155c"/>
<rect x="370.33" y="336.04" width="6.2" height="77.86" fill="#ff9900"/>
<rect x="376.98" y="389.81" width="6.2" height="24.09" fill="#3cc0d0"/>
<rect x="388.93" y="355.21" width="6.2" height="58.69" fill="#000000"/>
<rect x="395.57" y="347.07" width="6.2" height="66.83" fill="#f8155c"/>
<rect x="402.23" y="327.06" width="6.2" height="86.84" fill="#ff9900"/>
<rect x="408.88" y="385.23" width="6.2" height="28.67" fill="#3cc0d0"/>
<rect x="420.82" y="338.76" width="6.2" height="75.14" fill="#000000"/>
<rect x="427.47" y="341.47" width="6.2" height="72.43" fill="#f8155c"/>
<rect x="434.12" y="296.18" width="6.2" height="117.72" fill="#ff9900"/>
<rect x="440.77" y="374.04" width="6.2" height="39.86" fill="#3cc0d0"/>
<rect x="452.73" y="351.65" width="6.2" height="62.25" fill="#000000"/>
<rect x="459.38" y="323.15" width="6.2" height="90.75" fill="#f8155c"/>
<rect x="466.03" y="286.69" width="6.2" height="127.21" fill="#ff9900"/>
<rect x="472.68" y="365.22" width="6.2" height="48.68" fill="#3cc0d0"/>
<rect x="484.63" y="356.74" width="6.2" height="57.16" fill="#000000"/>
<rect x="491.28" y="298.05" width="6.2" height="115.85" fill="#f8155c"/>
<rect x="497.93" y="262.26" width="6.2" height="151.64" fill="#ff9900"/>
<rect x="504.58" y="377.43" width="6.2" height="36.47" fill="#3cc0d0"/>
<rect x="516.53" y="329.94" width="6.2" height="83.96" fill="#000000"/>
<rect x="523.18" y="288.72" width="6.2" height="125.18" fill="#f8155c"/>
<rect x="529.83" y="248.86" width="6.2" height="165.04" fill="#ff9900"/>
<rect x="536.48" y="388.63" width="6.2" height="25.27" fill="#3cc0d0"/>
<path d="M328.22,382.18 V391.68 M326.62,382.18 H329.82 M326.62,391.68 H329.82" stroke="#3a3a3a" stroke-width="0.7" fill="none"/>
<path d="M334.87,383.71 V393.55 M333.27,383.71 H336.47 M333.27,393.55 H336.47" stroke="#3a3a3a" stroke-width="0.7" fill="none"/>
<path d="M341.52,382.01 V392.19 M339.92,382.01 H343.12 M339.92,392.19 H343.12" stroke="#3a3a3a" stroke-width="0.7" fill="none"/>
<path d="M348.17,382.52 V392.7 M346.57,382.52 H349.77 M346.57,392.7 H349.77" stroke="#3a3a3a" stroke-width="0.7" fill="none"/>
<path d="M360.12,370.99 V383.2 M358.52,370.99 H361.73 M358.52,383.2 H361.73" stroke="#3a3a3a" stroke-width="0.7" fill="none"/>
<path d="M366.77,361.66 V371.16 M365.17,361.66 H368.38 M365.17,371.16 H368.38" stroke="#3a3a3a" stroke-width="0.7" fill="none"/>
<path d="M373.43,332.31 V339.78 M371.82,332.31 H375.03 M371.82,339.78 H375.03" stroke="#3a3a3a" stroke-width="0.7" fill="none"/>
<path d="M380.07,384.22 V395.41 M378.47,384.22 H381.68 M378.47,395.41 H381.68" stroke="#3a3a3a" stroke-width="0.7" fill="none"/>
<path d="M392.02,350.97 V359.45 M390.42,350.97 H393.62 M390.42,359.45 H393.62" stroke="#3a3a3a" stroke-width="0.7" fill="none"/>
<path d="M398.67,342.49 V351.65 M397.07,342.49 H400.27 M397.07,351.65 H400.27" stroke="#3a3a3a" stroke-width="0.7" fill="none"/>
<path d="M405.32,320.95 V333.16 M403.72,320.95 H406.93 M403.72,333.16 H406.93" stroke="#3a3a3a" stroke-width="0.7" fill="none"/>
<path d="M411.97,380.49 V389.98 M410.37,380.49 H413.57 M410.37,389.98 H413.57" stroke="#3a3a3a" stroke-width="0.7" fill="none"/>
<path d="M423.92,330.62 V346.9 M422.32,330.62 H425.52 M422.32,346.9 H425.52" stroke="#3a3a3a" stroke-width="0.7" fill="none"/>
<path d="M430.57,334.35 V348.6 M428.97,334.35 H432.17 M428.97,348.6 H432.17" stroke="#3a3a3a" stroke-width="0.7" fill="none"/>
<path d="M437.22,288.72 V303.65 M435.62,288.72 H438.82 M435.62,303.65 H438.82" stroke="#3a3a3a" stroke-width="0.7" fill="none"/>
<path d="M443.87,365.9 V382.18 M442.27,365.9 H445.47 M442.27,382.18 H445.47" stroke="#3a3a3a" stroke-width="0.7" fill="none"/>
<path d="M455.82,348.26 V355.04 M454.22,348.26 H457.43 M454.22,355.04 H457.43" stroke="#3a3a3a" stroke-width="0.7" fill="none"/>
<path d="M462.47,316.37 V329.94 M460.87,316.37 H464.07 M460.87,329.94 H464.07" stroke="#3a3a3a" stroke-width="0.7" fill="none"/>
<path d="M469.12,281.94 V291.44 M467.52,281.94 H470.73 M467.52,291.44 H470.73" stroke="#3a3a3a" stroke-width="0.7" fill="none"/>
<path d="M475.77,358.1 V372.34 M474.17,358.1 H477.38 M474.17,372.34 H477.38" stroke="#3a3a3a" stroke-width="0.7" fill="none"/>
<path d="M487.73,350.46 V363.01 M486.12,350.46 H489.33 M486.12,363.01 H489.33" stroke="#3a3a3a" stroke-width="0.7" fill="none"/>
<path d="M494.38,291.27 V304.83 M492.77,291.27 H495.98 M492.77,304.83 H495.98" stroke="#3a3a3a" stroke-width="0.7" fill="none"/>
<path d="M501.03,257.17 V267.35 M499.43,257.17 H502.63 M499.43,267.35 H502.63" stroke="#3a3a3a" stroke-width="0.7" fill="none"/>
<path d="M507.68,372 V382.86 M506.07,372 H509.28 M506.07,382.86 H509.28" stroke="#3a3a3a" stroke-width="0.7" fill="none"/>
<path d="M519.63,325.36 V334.52 M518.03,325.36 H521.23 M518.03,334.52 H521.23" stroke="#3a3a3a" stroke-width="0.7" fill="none"/>
<path d="M526.28,281.09 V296.35 M524.68,281.09 H527.88 M524.68,296.35 H527.88" stroke="#3a3a3a" stroke-width="0.7" fill="none"/>
<path d="M532.93,242.92 V254.8 M531.33,242.92 H534.53 M531.33,254.8 H534.53" stroke="#3a3a3a" stroke-width="0.7" fill="none"/>
<path d="M539.58,381.84 V395.41 M537.98,381.84 H541.18 M537.98,395.41 H541.18" stroke="#3a3a3a" stroke-width="0.7" fill="none"/>
<rect x="322" y="235.8" width="221.4" height="178.1" fill="none" stroke="#555555" stroke-width="1.35"/>
</svg></body></html>
